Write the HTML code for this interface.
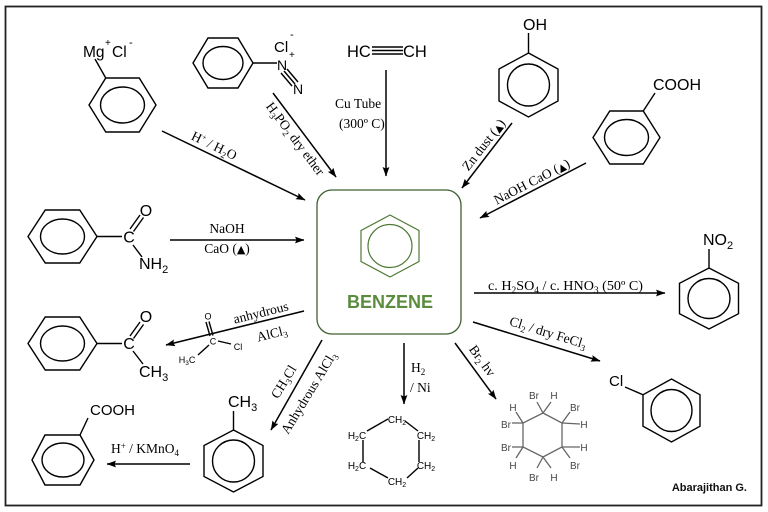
<!DOCTYPE html>
<html><head><meta charset="utf-8"><style>
html,body{margin:0;padding:0;background:#fff;}
svg{display:block;}
.s{font-family:"Liberation Sans",Arial,sans-serif;fill:#000;}
.r{font-family:"Liberation Serif","Times New Roman",serif;font-size:13.5px;fill:#000;}
.ln{stroke:#000;stroke-width:1.4;fill:none;}
.ar{stroke:#000;stroke-width:1.5;fill:none;marker-end:url(#ah);}
.g{stroke:#666;stroke-width:1.3;fill:none;}
.gt{font-family:"Liberation Sans",Arial,sans-serif;font-size:10px;fill:#444;}
</style></head><body>
<svg width="768" height="512" viewBox="0 0 768 512" xmlns="http://www.w3.org/2000/svg">
<defs>
<marker id="ah" markerWidth="10" markerHeight="8" refX="9" refY="4" orient="auto" markerUnits="userSpaceOnUse">
<path d="M0,0.6 L9.5,4 L0,7.4 L1.5,4 z" fill="#000"/>
</marker>
</defs>
<rect x="0" y="0" width="768" height="512" fill="#fff"/>
<rect x="5.5" y="6.5" width="756" height="499" fill="none" stroke="#222" stroke-width="1.8"/>

<!-- Ring 1: phenyl MgCl -->
<polygon class="ln" points="89,105 105.75,78 139.25,78 156,105 139.25,132 105.75,132"/>
<ellipse class="ln" cx="122.5" cy="105" rx="22" ry="18"/>
<line class="ln" x1="95" y1="59" x2="105.75" y2="78"/>
<text class="s" x="83" y="57" font-size="15.5">Mg</text>
<text class="s" x="105" y="46" font-size="10">+</text>
<text class="s" x="112" y="57" font-size="15.5">Cl</text>
<text class="s" x="129" y="46" font-size="11">-</text>

<!-- Ring 2: diazonium -->
<polygon class="ln" points="193,63 208,38 238,38 253,63 238,88 208,88"/>
<ellipse class="ln" cx="223" cy="63" rx="20" ry="16.5"/>
<line class="ln" x1="253" y1="63" x2="277" y2="63"/>
<text class="s" x="274" y="52" font-size="15">Cl</text>
<text class="s" x="290" y="38" font-size="11">-</text>
<text class="s" x="277" y="70" font-size="14">N</text>
<text class="s" x="289" y="58" font-size="10">+</text>
<line class="ln" x1="281" y1="73" x2="292" y2="86" stroke-width="1.1"/>
<line class="ln" x1="284" y1="71" x2="295" y2="84" stroke-width="1.1"/>
<line class="ln" x1="287" y1="69" x2="298" y2="82" stroke-width="1.1"/>
<text class="s" x="293" y="94" font-size="14">N</text>

<!-- Acetylene -->
<text class="s" x="347" y="57" font-size="16.5">HC</text>
<line class="ln" x1="372" y1="47" x2="403" y2="47" stroke-width="1.1"/>
<line class="ln" x1="372" y1="50.5" x2="403" y2="50.5" stroke-width="1.1"/>
<line class="ln" x1="372" y1="54" x2="403" y2="54" stroke-width="1.1"/>
<text class="s" x="403" y="57" font-size="16.5">CH</text>

<!-- Ring 3: phenol -->
<text class="s" x="523" y="30" font-size="16">OH</text>
<line class="ln" x1="528.5" y1="33" x2="528.5" y2="53"/>
<polygon class="ln" points="528.5,53 558,69 558,101 528.5,117 499,101 499,69"/>
<ellipse class="ln" cx="528.5" cy="85" rx="21" ry="21"/>

<!-- Ring 4: benzoic acid top right -->
<text class="s" x="653" y="90" font-size="16">COOH</text>
<line class="ln" x1="643.25" y1="111" x2="655" y2="93"/>
<polygon class="ln" points="593,137.5 609.75,111 643.25,111 660,137.5 643.25,164 609.75,164"/>
<ellipse class="ln" cx="626.5" cy="137.5" rx="22" ry="18"/>

<!-- Ring 5: benzamide -->
<polygon class="ln" points="28,236.5 45.25,210 79.75,210 97,236.5 79.75,263 45.25,263"/>
<ellipse class="ln" cx="62.5" cy="236.5" rx="22" ry="17.5"/>
<line class="ln" x1="97" y1="236.5" x2="122" y2="236.5"/>
<text class="s" x="129" y="242.5" font-size="16" text-anchor="middle">C</text>
<line class="ln" x1="130" y1="229" x2="140" y2="215"/>
<line class="ln" x1="133.5" y1="231.5" x2="143.5" y2="217.5"/>
<text class="s" x="146" y="216" font-size="16" text-anchor="middle">O</text>
<line class="ln" x1="133" y1="245" x2="142" y2="257"/>
<text class="s" x="139" y="269" font-size="16">NH<tspan font-size="11" dy="4">2</tspan></text>

<!-- Ring 6: acetophenone -->
<polygon class="ln" points="28,343.5 45.25,317 79.75,317 97,343.5 79.75,370 45.25,370"/>
<ellipse class="ln" cx="62.5" cy="343.5" rx="22" ry="17.5"/>
<line class="ln" x1="97" y1="343.5" x2="122" y2="343.5"/>
<text class="s" x="129" y="349" font-size="16" text-anchor="middle">C</text>
<line class="ln" x1="130" y1="336" x2="140" y2="322"/>
<line class="ln" x1="133.5" y1="338.5" x2="143.5" y2="324.5"/>
<text class="s" x="146" y="322" font-size="16" text-anchor="middle">O</text>
<line class="ln" x1="133" y1="351" x2="143" y2="364"/>
<text class="s" x="139" y="377" font-size="16">CH<tspan font-size="11" dy="4">3</tspan></text>

<!-- Ring 7: benzoic acid bottom left -->
<text class="s" x="90" y="415" font-size="15">COOH</text>
<line class="ln" x1="80" y1="435" x2="88" y2="418"/>
<polygon class="ln" points="32,460 45,435 80,435 94,460 80,485 45,485"/>
<ellipse class="ln" cx="63" cy="460" rx="21" ry="17"/>

<!-- Ring 8: toluene -->
<text class="s" x="228" y="407" font-size="16">CH<tspan font-size="11" dy="4">3</tspan></text>
<line class="ln" x1="233.5" y1="411" x2="233.5" y2="430"/>
<polygon class="ln" points="233.5,430 263,445.5 263,476.5 233.5,492 204,476.5 204,445.5"/>
<ellipse class="ln" cx="233.5" cy="461" rx="21" ry="21"/>

<!-- Ring 9: nitrobenzene -->
<text class="s" x="703" y="245" font-size="16">NO<tspan font-size="11" dy="4">2</tspan></text>
<line class="ln" x1="709" y1="249" x2="709" y2="268"/>
<polygon class="ln" points="709,268 738.5,283.25 738.5,313.75 709,329 679.5,313.75 679.5,283.25"/>
<ellipse class="ln" cx="709" cy="298.5" rx="21" ry="20"/>

<!-- Ring 10: chlorobenzene -->
<text class="s" x="609" y="386" font-size="15">Cl</text>
<line class="ln" x1="625" y1="387" x2="643" y2="394.75"/>
<polygon class="ln" points="671.5,379 700,394.75 700,426.25 671.5,442 643,426.25 643,394.75"/>
<ellipse class="ln" cx="671.5" cy="410.5" rx="20.5" ry="21"/>

<!-- Center box -->
<rect x="317" y="190" width="144" height="144" rx="15" ry="15" fill="none" stroke="#3f5f2f" stroke-width="1.3"/>
<polygon points="390,215 419,230.5 419,261.5 390,277 361,261.5 361,230.5" fill="none" stroke="#4e7a35" stroke-width="1.2"/>
<ellipse cx="390" cy="246" rx="22" ry="21.5" fill="none" stroke="#4e7a35" stroke-width="1.2"/>
<text x="390" y="308" text-anchor="middle" font-family="'Liberation Sans',Arial,sans-serif" font-weight="bold" font-size="18" fill="#5b8c3e">BENZENE</text>

<!-- Arrows -->
<line class="ar" x1="162" y1="131" x2="305" y2="200"/>
<line class="ar" x1="273" y1="93" x2="336" y2="177"/>
<line class="ar" x1="386" y1="70" x2="386" y2="176"/>
<line class="ar" x1="512" y1="123" x2="462" y2="188"/>
<line class="ar" x1="586" y1="163" x2="480" y2="218"/>
<line class="ar" x1="170" y1="240" x2="304" y2="240"/>
<line class="ar" x1="304" y1="311" x2="166" y2="345"/>
<line class="ar" x1="474" y1="293" x2="665" y2="293"/>
<line class="ar" x1="473" y1="322" x2="600" y2="361"/>
<line class="ar" x1="404" y1="343" x2="404" y2="404"/>
<line class="ar" x1="455" y1="343" x2="496" y2="399"/>
<line class="ar" x1="322" y1="340" x2="271" y2="430"/>
<line class="ar" x1="190" y1="464" x2="107" y2="464"/>

<!-- Labels -->
<text class="r" transform="translate(214,146) rotate(25.8)" text-anchor="middle" y="4">H<tspan font-size="8" dy="-5">+</tspan><tspan dy="5"> / H</tspan><tspan font-size="9" dy="3">2</tspan><tspan dy="-3">O</tspan></text>
<text class="r" transform="translate(295,139) rotate(53)" text-anchor="middle" y="4">H<tspan font-size="9" dy="3">3</tspan><tspan dy="-3">PO</tspan><tspan font-size="9" dy="3">2</tspan><tspan dy="-3"> dry ether</tspan></text>
<text class="r" x="335" y="108">Cu Tube</text>
<text class="r" x="339" y="128">(300º C)</text>
<text class="r" transform="translate(484,145) rotate(-52)" text-anchor="middle" y="4">Zn dust  (<tspan font-size="10" font-family="'DejaVu Sans',sans-serif">▲</tspan>)</text>
<text class="r" transform="translate(532,182) rotate(-27.4)" text-anchor="middle" y="4">NaOH   CaO (<tspan font-size="10" font-family="'DejaVu Sans',sans-serif">▲</tspan>)</text>
<text class="r" x="227" y="233" text-anchor="middle">NaOH</text>
<text class="r" x="227" y="253" text-anchor="middle">CaO (<tspan font-size="11" font-family="'DejaVu Sans',sans-serif">▲</tspan>)</text>
<text class="r" transform="translate(261,313) rotate(-14)" text-anchor="middle" y="4">anhydrous</text>
<text class="r" transform="translate(272,334) rotate(-14)" text-anchor="middle" y="4">AlCl<tspan font-size="9" dy="3">3</tspan></text>
<text class="r" x="488" y="290" textLength="155" lengthAdjust="spacingAndGlyphs">c. H<tspan font-size="9" dy="3">2</tspan><tspan dy="-3">SO</tspan><tspan font-size="9" dy="3">4</tspan><tspan dy="-3"> / c. HNO</tspan><tspan font-size="9" dy="3">3</tspan><tspan dy="-3"> (50º C)</tspan></text>
<text class="r" transform="translate(548,333) rotate(17.2)" text-anchor="middle" y="4">Cl<tspan font-size="9" dy="3">2</tspan><tspan dy="-3"> / dry FeCl</tspan><tspan font-size="9" dy="3">3</tspan></text>
<text class="r" x="411" y="372">H<tspan font-size="9" dy="3">2</tspan></text>
<text class="r" x="410" y="392">/ Ni</text>
<text class="r" transform="translate(482,361) rotate(54)" text-anchor="middle" y="4">Br<tspan font-size="9" dy="3">2</tspan><tspan dy="-3">  hv</tspan></text>
<text class="r" transform="translate(284,382) rotate(-58.5)" text-anchor="middle" y="4">CH<tspan font-size="9" dy="3">3</tspan><tspan dy="-3">Cl</tspan></text>
<text class="r" transform="translate(309,393) rotate(-58.5)" text-anchor="middle" y="4">Anhydrous  AlCl<tspan font-size="9" dy="3">3</tspan></text>
<text class="r" x="145" y="453" text-anchor="middle">H<tspan font-size="9" dy="-4">+</tspan><tspan dy="4"> / KMnO</tspan><tspan font-size="9" dy="3">4</tspan></text>

<!-- Acetyl chloride small -->
<text class="s" x="208" y="319.5" font-size="9" text-anchor="middle">O</text>
<line class="ln" x1="206" y1="322" x2="210" y2="336" stroke-width="1"/>
<line class="ln" x1="209" y1="321.5" x2="213" y2="335.5" stroke-width="1"/>
<text class="s" x="213" y="344.5" font-size="9" text-anchor="middle">C</text>
<line class="ln" x1="209" y1="345" x2="198" y2="355" stroke-width="1"/>
<text class="s" x="187" y="363" font-size="9" text-anchor="middle">H<tspan font-size="6.5" dy="2">3</tspan><tspan dy="-2">C</tspan></text>
<line class="ln" x1="218" y1="341" x2="231" y2="344" stroke-width="1"/>
<text class="s" x="238" y="350" font-size="9" text-anchor="middle">Cl</text>

<!-- Cyclohexane -->
<g class="s" font-size="10">
<text x="397" y="423" text-anchor="middle">CH<tspan font-size="7" dy="2">2</tspan></text>
<text x="357" y="439" text-anchor="middle">H<tspan font-size="7" dy="2">2</tspan><tspan dy="-2">C</tspan></text>
<text x="426" y="439" text-anchor="middle">CH<tspan font-size="7" dy="2">2</tspan></text>
<text x="357" y="469" text-anchor="middle">H<tspan font-size="7" dy="2">2</tspan><tspan dy="-2">C</tspan></text>
<text x="426" y="469" text-anchor="middle">CH<tspan font-size="7" dy="2">2</tspan></text>
<text x="397" y="485" text-anchor="middle">CH<tspan font-size="7" dy="2">2</tspan></text>
</g>
<g class="ln" stroke-width="1.1">
<line x1="367" y1="431" x2="388" y2="419"/>
<line x1="405" y1="421" x2="418" y2="431"/>
<line x1="419" y1="440" x2="419" y2="462"/>
<line x1="363" y1="440" x2="363" y2="462"/>
<line x1="370" y1="468" x2="388" y2="478"/>
<line x1="407" y1="478" x2="418" y2="468"/>
</g>

<!-- Hexabromocyclohexane -->
<polygon class="g" points="543,413 562,423 562,447 543,457 523,447 523,423"/>
<g class="g">
<line x1="543" y1="413" x2="537" y2="402"/>
<line x1="543" y1="413" x2="551" y2="402"/>
<line x1="562" y1="423" x2="570" y2="412"/>
<line x1="562" y1="423" x2="580" y2="424"/>
<line x1="562" y1="447" x2="580" y2="447"/>
<line x1="562" y1="447" x2="570" y2="458"/>
<line x1="543" y1="457" x2="537" y2="468"/>
<line x1="543" y1="457" x2="551" y2="468"/>
<line x1="523" y1="447" x2="512" y2="447"/>
<line x1="523" y1="447" x2="516" y2="458"/>
<line x1="523" y1="423" x2="512" y2="423"/>
<line x1="523" y1="423" x2="516" y2="412"/>
</g>
<g class="gt">
<text x="534" y="399" text-anchor="middle">Br</text>
<text x="554" y="399" text-anchor="middle">H</text>
<text x="575" y="411" text-anchor="middle">Br</text>
<text x="584" y="428" text-anchor="middle">H</text>
<text x="584" y="451" text-anchor="middle">H</text>
<text x="575" y="469" text-anchor="middle">Br</text>
<text x="534" y="481" text-anchor="middle">Br</text>
<text x="554" y="481" text-anchor="middle">H</text>
<text x="506" y="451" text-anchor="middle">Br</text>
<text x="513" y="469" text-anchor="middle">H</text>
<text x="506" y="428" text-anchor="middle">Br</text>
<text x="513" y="411" text-anchor="middle">H</text>
</g>

<text x="747" y="491" text-anchor="end" font-family="'Liberation Sans',Arial,sans-serif" font-weight="bold" font-size="11" fill="#111">Abarajithan G.</text>
</svg>
</body></html>
